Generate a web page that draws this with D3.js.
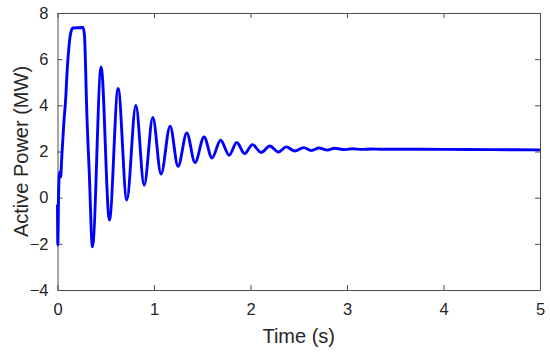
<!DOCTYPE html>
<html>
<head>
<meta charset="utf-8">
<script src="https://cdn.jsdelivr.net/npm/d3@7"></script>
<style>
	body { margin: 0; background: #fff; }
	text { font-family: 'Liberation Sans', Arial, sans-serif; fill: #262626; }
</style>
</head>
<body>
<script>
// Active power response (extrema + a few shape points)
const timeS = [0, 0.003, 0.012, 0.022, 0.032, 0.045, 0.065, 0.085, 0.1, 0.118, 0.135, 0.16, 0.265, 0.28, 0.29, 0.3, 0.33,
	0.362, 0.452, 0.538, 0.628, 0.718, 0.812, 0.898, 0.988, 1.073, 1.167, 1.249, 1.34, 1.425, 1.519, 1.601,
	1.69, 1.78, 1.857, 1.94, 2.02, 2.11, 2.2, 2.29, 2.37, 2.46, 2.55, 2.63, 2.71, 2.8, 2.87, 2.98, 3.06,
	3.15, 3.25, 3.35, 3.5, 4, 4.5, 5]
const powerMW = [-0.3, -2.05, 0.3, 1.1, 0.9, 1.8, 3.2, 4.3, 5.5, 6.5, 7.1, 7.35, 7.37, 7.0, 5.8, 4.2, 1.0,
	-2.13, 5.66, -0.97, 4.73, -0.1, 4.0, 0.54, 3.47, 1.02, 3.1, 1.36, 2.8, 1.52, 2.63, 1.72,
	2.49, 1.84, 2.39, 1.91, 2.3, 1.96, 2.24, 1.98, 2.2, 2.02, 2.17, 2.04, 2.15, 2.06, 2.14, 2.08, 2.12,
	2.09, 2.11, 2.1, 2.1, 2.09, 2.08, 2.07]
const xTicks = [0, 1, 2, 3, 4, 5]
const yTicks = [-4, -2, 0, 2, 4, 6, 8]

const svgw = 550
const svgh = 354
const padL = 57.5
const padR = 540
const padT = 13
const padB = 290

const svg = d3.select('body').append('svg').attr('width', svgw).attr('height', svgh)

const xScale = d3.scaleLinear().domain([0, 5]).range([padL, padR])
const yScale = d3.scaleLinear().domain([-4, 8]).range([padB, padT])

const axisCol = '#4d4d4d'
const tick = 5
const fmt = d3.format('d')

// box + ticks on all four sides (inward)
const xAxis = d3.axisBottom(xScale).tickValues(xTicks).tickFormat(fmt).tickSizeInner(-tick).tickSizeOuter(0).tickPadding(13)
const yAxis = d3.axisLeft(yScale).tickValues(yTicks).tickFormat(fmt).tickSizeInner(-tick).tickSizeOuter(0).tickPadding(9)
const xTop = d3.axisTop(xScale).tickValues(xTicks).tickSizeInner(-tick).tickSizeOuter(0).tickFormat('')
const yRight = d3.axisRight(yScale).tickValues(yTicks).tickSizeInner(-tick).tickSizeOuter(0).tickFormat('')

const gx = svg.append('g').attr('transform', `translate(0,${padB})`).call(xAxis)
const gy = svg.append('g').attr('transform', `translate(${padL},0)`).call(yAxis)
const gt = svg.append('g').attr('transform', `translate(0,${padT})`).call(xTop)
const gr = svg.append('g').attr('transform', `translate(${padR},0)`).call(yRight)

;[gx, gy, gt, gr].forEach(g => {
	g.select('.domain').attr('stroke', axisCol)
	g.selectAll('.tick line').attr('stroke', axisCol)
	g.selectAll('.tick text').attr('font-size', 16.5).attr('fill', '#1a1a1a')
		.attr('font-family', "'Liberation Sans', Arial, sans-serif")
})

const line = d3.line()
	.x((d, i) => xScale(timeS[i]))
	.y(d => yScale(d))
	.curve(d3.curveMonotoneX)

svg.append('path')
	.datum(powerMW)
	.attr('fill', 'none')
	.attr('stroke', '#0000ff')
	.attr('stroke-width', 2.9)
	.attr('stroke-linejoin', 'round')
	.attr('d', line)

svg.append('text')
	.attr('x', (padL + padR) / 2)
	.attr('y', 343)
	.attr('text-anchor', 'middle')
	.attr('font-size', 20)
	.attr('fill', '#1a1a1a')
	.text('Time (s)')

svg.append('text')
	.attr('transform', `translate(27.5,${(padT + padB) / 2}) rotate(-90)`)
	.attr('text-anchor', 'middle')
	.attr('font-size', 20)
	.attr('fill', '#1a1a1a')
	.text('Active Power (MW)')
</script>
</body>
</html>
